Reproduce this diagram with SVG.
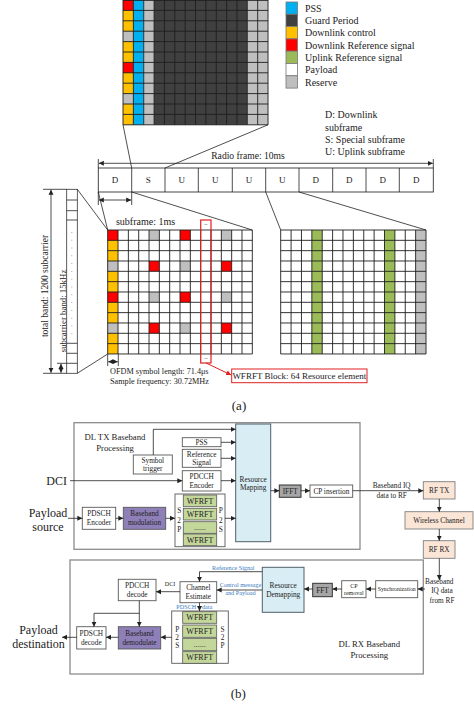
<svg xmlns="http://www.w3.org/2000/svg" width="474" height="722" viewBox="0 0 474 722">
<defs>
<marker id="ah" markerUnits="userSpaceOnUse" markerWidth="6" markerHeight="6" refX="5" refY="3" orient="auto-start-reverse"><path d="M0,0.5 L5,3 L0,5.5 z" fill="#222"/></marker>
<marker id="ahr" markerUnits="userSpaceOnUse" markerWidth="6" markerHeight="6" refX="5" refY="3" orient="auto"><path d="M0,0.5 L5,3 L0,5.5 z" fill="#e02020"/></marker>
</defs>
<style>
.t{font-family:"Liberation Serif","Times New Roman",serif;fill:#222}
.m{text-anchor:middle}
.R{fill:#ff0000}.Y{fill:#ffc000}.G{fill:#bfbfbf}.B{fill:#00b0f0}.K{fill:#404040}.V{fill:#9bbb59}.W{fill:#fff}
.gl{stroke:#1e1e1e;stroke-width:0.9;fill:none}
.ln{stroke:#222;stroke-width:0.8;fill:none}
.dbl{stroke:#222;stroke-width:0.8;fill:none;marker-start:url(#ah);marker-end:url(#ah)}
.box{fill:#fff;stroke:#595959;stroke-width:0.9}
.pur{fill:#8f7fb8;stroke:#595959;stroke-width:0.9}
.lb{fill:#d9edf4;stroke:#4f5f6a;stroke-width:1}
.grn{fill:#c4d79b;stroke:#595959;stroke-width:0.8}
.gry{fill:#a6a6a6;stroke:#333;stroke-width:1}
.pch{fill:#fbe5d6;stroke:#7f7f7f;stroke-width:0.9}
.outer{fill:none;stroke:#8c8c8c;stroke-width:1.3}
.c{stroke:#222;stroke-width:0.8;fill:none;marker-end:url(#ah)}
.s7{font-size:7.3px}
.blue{fill:#3a7cc0;font-size:6.2px}
</style>
<rect width="474" height="722" fill="#fff"/>

<!-- ===== (a) special subframe detail grid ===== -->
<g id="special-subframe-grid">
<rect x="123" y="0" width="145" height="124.8" class="W"/>
<rect x="123" y="0" width="10.36" height="124.8" class="Y"/>
<rect x="123" y="0" width="10.36" height="10.4" class="R"/>
<rect x="123" y="62.4" width="10.36" height="10.4" class="R"/>
<rect x="123" y="31.2" width="10.36" height="10.4" class="G"/>
<rect x="123" y="93.6" width="10.36" height="10.4" class="G"/>
<rect x="133.36" y="0" width="10.36" height="124.8" class="B"/>
<rect x="143.72" y="0" width="10.36" height="124.8" class="G"/>
<rect x="154.08" y="0" width="93.24" height="124.8" class="K"/>
<rect x="247.32" y="0" width="20.72" height="124.8" class="G"/>
<path class="gl" d="M123,0V124.8M133.36,0V124.8M143.72,0V124.8M154.08,0V124.8M164.44,0V124.8M174.8,0V124.8M185.16,0V124.8M195.52,0V124.8M205.88,0V124.8M216.24,0V124.8M226.6,0V124.8M236.96,0V124.8M247.32,0V124.8M257.68,0V124.8M268.04,0V124.8M123,0.4H268.04M123,10.4H268.04M123,20.8H268.04M123,31.2H268.04M123,41.6H268.04M123,52H268.04M123,62.4H268.04M123,72.8H268.04M123,83.2H268.04M123,93.6H268.04M123,104H268.04M123,114.4H268.04M123,124.8H268.04"/>
</g>

<!-- legend -->
<g id="legend">
<g stroke="#777" stroke-width="0.8">
<rect x="286" y="2" width="11.5" height="12.3" class="B"/>
<rect x="286" y="14.3" width="11.5" height="12.3" class="K"/>
<rect x="286" y="26.6" width="11.5" height="12.3" class="Y"/>
<rect x="286" y="38.9" width="11.5" height="12.3" class="R"/>
<rect x="286" y="51.2" width="11.5" height="12.3" class="V"/>
<rect x="286" y="63.5" width="11.5" height="12.3" class="W"/>
<rect x="286" y="75.8" width="11.5" height="12.3" class="G"/>
</g>
<g class="t" font-size="10">
<text x="305" y="11.5">PSS</text>
<text x="305" y="24">Guard Period</text>
<text x="305" y="36.3">Downlink control</text>
<text x="305" y="48.6">Downlink Reference signal</text>
<text x="305" y="61">Uplink Reference signal</text>
<text x="305" y="73.2">Payload</text>
<text x="305" y="85.5">Reserve</text>
<text x="325" y="117.5">D: Downlink</text>
<text x="325" y="130.5">subframe</text>
<text x="325" y="143">S: Special subframe</text>
<text x="325" y="155">U: Uplink subframe</text>
</g>
</g>

<!-- radio frame -->
<g id="radio-frame">
<text class="t m" x="248" y="158.5" font-size="9.6">Radio frame: 10ms</text>
<rect x="98.3" y="168" width="335" height="24" fill="#fff" stroke="#333" stroke-width="0.9"/>
<path class="ln" d="M131.7,168V192M165,168V192M198.3,168V192M232.3,168V192M265.7,168V192M299,168V192M332.7,168V192M366,168V192M399.3,168V192"/>
<g class="t m" font-size="9">
<text x="115" y="183.2">D</text><text x="148.3" y="183.2">S</text><text x="181.7" y="183.2">U</text><text x="215.3" y="183.2">U</text><text x="249" y="183.2">U</text><text x="282.3" y="183.2">U</text><text x="315.8" y="183.2">D</text><text x="349.3" y="183.2">D</text><text x="382.7" y="183.2">D</text><text x="416.3" y="183.2">D</text>
</g>
</g>

<!-- downlink subframe grid -->
<g id="downlink-subframe-grid">
<rect x="107.7" y="230" width="144.62" height="123.96" class="W"/>
<rect x="107.7" y="230" width="10.33" height="123.96" class="Y"/>
<rect x="107.7" y="230" width="10.33" height="10.33" class="R"/>
<rect x="107.7" y="291.98" width="10.33" height="10.33" class="R"/>
<rect x="107.7" y="260.99" width="10.33" height="10.33" class="G"/>
<rect x="107.7" y="322.97" width="10.33" height="10.33" class="G"/>
<rect x="149.02" y="230" width="10.33" height="10.33" class="G"/>
<rect x="180.01" y="230" width="10.33" height="10.33" class="R"/>
<rect x="221.33" y="230" width="10.33" height="10.33" class="G"/>
<rect x="149.02" y="260.99" width="10.33" height="10.33" class="R"/>
<rect x="180.01" y="260.99" width="10.33" height="10.33" class="G"/>
<rect x="221.33" y="260.99" width="10.33" height="10.33" class="R"/>
<rect x="149.02" y="291.98" width="10.33" height="10.33" class="G"/>
<rect x="180.01" y="291.98" width="10.33" height="10.33" class="R"/>
<rect x="221.33" y="291.98" width="10.33" height="10.33" class="G"/>
<rect x="149.02" y="322.97" width="10.33" height="10.33" class="R"/>
<rect x="180.01" y="322.97" width="10.33" height="10.33" class="G"/>
<rect x="221.33" y="322.97" width="10.33" height="10.33" class="R"/>
<path class="gl" d="M107.7,230V353.96M118.03,230V353.96M128.36,230V353.96M138.69,230V353.96M149.02,230V353.96M159.35,230V353.96M169.68,230V353.96M180.01,230V353.96M190.34,230V353.96M200.67,230V353.96M211,230V353.96M221.33,230V353.96M231.66,230V353.96M241.99,230V353.96M252.32,230V353.96M107.7,230H252.32M107.7,240.33H252.32M107.7,250.66H252.32M107.7,260.99H252.32M107.7,271.32H252.32M107.7,281.65H252.32M107.7,291.98H252.32M107.7,302.31H252.32M107.7,312.64H252.32M107.7,322.97H252.32M107.7,333.3H252.32M107.7,343.63H252.32M107.7,353.96H252.32"/>
<text class="t m" x="145.5" y="224.5" font-size="10">subframe: 1ms</text>
</g>

<!-- uplink subframe grid -->
<g id="uplink-subframe-grid">
<rect x="280.7" y="230" width="145.32" height="123.96" class="W"/>
<rect x="311.84" y="230" width="10.38" height="123.96" class="V"/>
<rect x="384.5" y="230" width="10.38" height="123.96" class="V"/>
<rect x="415.64" y="230" width="10.38" height="123.96" class="G"/>
<path class="gl" d="M280.7,230V353.96M291.08,230V353.96M301.46,230V353.96M311.84,230V353.96M322.22,230V353.96M332.6,230V353.96M342.98,230V353.96M353.36,230V353.96M363.74,230V353.96M374.12,230V353.96M384.5,230V353.96M394.88,230V353.96M405.26,230V353.96M415.64,230V353.96M426.02,230V353.96M280.7,230H426.02M280.7,240.33H426.02M280.7,250.66H426.02M280.7,260.99H426.02M280.7,271.32H426.02M280.7,281.65H426.02M280.7,291.98H426.02M280.7,302.31H426.02M280.7,312.64H426.02M280.7,322.97H426.02M280.7,333.3H426.02M280.7,343.63H426.02M280.7,353.96H426.02"/>
</g>

<!-- total band strip -->
<g id="band-strip">
<rect x="66.7" y="189.3" width="10.6" height="184" fill="#fff" stroke="#333" stroke-width="0.8"/>
<path class="ln" d="M66.7,200H77.3M66.7,210.7H77.3M66.7,220H77.3M66.7,343.3H77.3M66.7,353.3H77.3M66.7,363.3H77.3"/>
<path d="M71.8,232V338" stroke="#777" stroke-width="0.8" stroke-dasharray="0.8 7"/>
<text class="t m" transform="translate(48.4,286) rotate(-90)" font-size="9.5">total band: 1200 subcarrier</text>
<text class="t m" transform="translate(66,311) rotate(-90)" font-size="8.8">subcarrier band: 15kHz</text>
</g>

<!-- WFRFT block -->
<g id="wfrft-block">
<rect x="200.7" y="220" width="10.3" height="143" fill="none" stroke="#e02020" stroke-width="1.2"/>
<path d="M204.3,224.5H207.5M204.3,358.5H207.5" stroke="#aaa" stroke-width="0.8"/>
<rect x="231.7" y="369" width="135.3" height="13.7" fill="#fff" stroke="#e02020" stroke-width="1"/>
<text class="t m" x="299.3" y="379" font-size="9">WFRFT Block: 64 Resource element</text>
</g>

<g id="ofdm-labels" class="t" font-size="8.2">
<text x="110" y="373.5">OFDM symbol length: 71.4μs</text>
<text x="110" y="384">Sample frequency: 30.72MHz</text>
</g>
<text class="t m" x="239" y="409.5" font-size="13">(a)</text>

<!-- (a) connectors and dimension lines -->
<g id="a-connectors">
<path class="dbl" d="M98.8,163.3H432.8"/>
<path class="ln" d="M98.3,159V168M433.3,159V168"/>
<path class="ln" d="M123,124.8L131.7,168M268,124.8L165,168"/>
<path class="ln" d="M98.3,192L107.7,230M131.7,192L252.3,230"/>
<path class="ln" d="M265.7,192L280.7,230M299,192L426,230"/>
<path class="dbl" d="M98.8,200H131.2"/>
<path class="ln" d="M98.3,192V205M131.7,192V205"/>
<path class="ln" d="M77.3,189.3L107.7,230M77.3,373.3L107.7,354"/>
<path class="dbl" d="M51,189.8V372.8"/>
<path class="ln" d="M43,189.3H66.7M43,373.3H66.7M57,363.3H66.7"/>
<path class="dbl" d="M61,363.8V372.8"/>
<path class="dbl" d="M108.2,361.7H117.8"/>
<path class="ln" d="M107.7,354V366M118.3,354V366"/>
<path d="M206,363L231.2,375" stroke="#e02020" stroke-width="1" fill="none" marker-end="url(#ahr)"/>
</g>

<!-- ===== (b) TX ===== -->
<g id="tx-frame">
<rect x="74" y="422.7" width="286" height="126.6" class="outer"/>
<text class="t m" x="115" y="439.7" font-size="8.7">DL TX Baseband</text>
<text class="t m" x="115" y="450.7" font-size="8.7">Processing</text>
</g>
<g id="symbol-trigger"><rect x="133.3" y="455" width="39" height="19" class="box"/><text class="t m s7" x="152.8" y="462.8">Symbol</text><text class="t m s7" x="152.8" y="471.3">trigger</text></g>
<g id="pss"><rect x="182.3" y="437.7" width="38.7" height="9" class="box"/><text class="t m s7" x="201.6" y="444.8">PSS</text></g>
<g id="reference-signal"><rect x="182.3" y="449.3" width="38.7" height="18" class="box"/><text class="t m s7" x="201.6" y="456.6">Reference</text><text class="t m s7" x="201.6" y="465">Signal</text></g>
<g id="pdcch-encoder"><rect x="182.3" y="470.7" width="38.7" height="20.3" class="box"/><text class="t m s7" x="201.6" y="478.8">PDCCH</text><text class="t m s7" x="201.6" y="487.6">Encoder</text></g>
<g id="resource-mapping"><rect x="235.7" y="424" width="35" height="117.7" class="lb"/><text class="t m s7" x="253.2" y="481.6">Resource</text><text class="t m s7" x="253.2" y="490.2">Mapping</text></g>
<g id="pdsch-encoder"><rect x="82.3" y="507.3" width="33.4" height="22" class="box"/><text class="t m s7" x="99" y="516.2">PDSCH</text><text class="t m s7" x="99" y="525.2">Encoder</text></g>
<g id="baseband-modulation"><rect x="123.3" y="507.3" width="42.4" height="22" class="pur"/><text class="t m s7" x="144.5" y="516.2">Baseband</text><text class="t m s7" x="144.5" y="525.2">modulation</text></g>
<g id="tx-wfrft">
<rect x="175" y="494" width="50" height="52.7" class="box"/>
<rect x="183.3" y="495" width="33.4" height="11.7" class="grn"/>
<rect x="183.3" y="508.3" width="33.4" height="11.7" class="grn"/>
<rect x="183.3" y="521.7" width="33.4" height="11.6" class="grn"/>
<rect x="183.3" y="534" width="33.4" height="11.7" class="grn"/>
<g class="t m" font-size="8"><text x="200" y="503.8">WFRFT</text><text x="200" y="517.1">WFRFT</text><text x="200" y="529.5">......</text><text x="200" y="542.8">WFRFT</text></g>
<g class="t m s7"><text x="179.2" y="512.6">S</text><text x="179.2" y="522.6">2</text><text x="179.2" y="532">P</text><text x="220.8" y="512.6">P</text><text x="220.8" y="522.6">2</text><text x="220.8" y="532">S</text></g>
</g>
<g id="ifft"><rect x="279.3" y="485" width="21.7" height="12.3" class="gry"/><text class="t m s7" x="290.2" y="493.7">IFFT</text></g>
<g id="cp-insertion"><rect x="310" y="485" width="42.7" height="12.3" class="box"/><text class="t m s7" x="331.4" y="493.7">CP insertion</text></g>
<g id="rf-tx"><rect x="423.3" y="481.7" width="31.7" height="17.3" class="pch"/><text class="t m s7" x="439.2" y="492.9">RF TX</text></g>
<g id="wireless-channel"><rect x="405" y="511.7" width="68" height="17.3" class="pch"/><text class="t m s7" x="439" y="522.9">Wireless Channel</text></g>
<g id="rf-rx"><rect x="423.3" y="540.7" width="31.7" height="17.6" class="pch"/><text class="t m s7" x="439.2" y="552">RF RX</text></g>
<g id="tx-labels" class="t">
<text x="67" y="485" font-size="12" text-anchor="end">DCI</text>
<text class="m" x="48" y="517" font-size="12">Payload</text>
<text class="m" x="48" y="530.5" font-size="12">source</text>
<text class="m s7" x="391.7" y="488.3">Baseband IQ</text>
<text class="m s7" x="391.7" y="497.8">data to RF</text>
</g>

<!-- ===== (b) RX ===== -->
<g id="rx-frame">
<rect x="70" y="560" width="353.3" height="114" class="outer"/>
<text class="t m" x="369.3" y="647" font-size="8.7">DL RX Baseband</text>
<text class="t m" x="369.3" y="657.5" font-size="8.7">Processing</text>
</g>
<g id="synchronization"><rect x="375.7" y="580.7" width="42" height="17" class="box"/><text class="t m" x="396.7" y="591.2" font-size="5.8">Synchronization</text></g>
<g id="cp-removal"><rect x="341.7" y="580.7" width="24.3" height="17" class="box"/><text class="t m" x="353.8" y="588" font-size="6">CP</text><text class="t m" x="353.8" y="595" font-size="6">removal</text></g>
<g id="fft"><rect x="312.7" y="583.3" width="19.6" height="13.4" class="gry"/><text class="t m s7" x="322.5" y="592.6">FFT</text></g>
<g id="resource-demapping"><rect x="262.3" y="567.3" width="41.7" height="45" class="lb"/><text class="t m s7" x="283.2" y="587.6">Resource</text><text class="t m s7" x="283.2" y="596.9">Demapping</text></g>
<g id="channel-estimate"><rect x="180" y="581.7" width="36.7" height="21" class="box"/><text class="t m s7" x="198.3" y="590">Channel</text><text class="t m s7" x="198.3" y="599.2">Estimate</text></g>
<g id="pdcch-decode"><rect x="118.3" y="579.3" width="37.7" height="21.4" class="box"/><text class="t m s7" x="137.2" y="588.2">PDCCH</text><text class="t m s7" x="137.2" y="597.2">decode</text></g>
<g id="rx-wfrft">
<rect x="171.7" y="611" width="56.6" height="52.3" class="box"/>
<rect x="182.7" y="611.7" width="34" height="11.6" class="grn"/>
<rect x="182.7" y="625" width="34" height="12.3" class="grn"/>
<rect x="182.7" y="638.3" width="34" height="12.4" class="grn"/>
<rect x="182.7" y="651.7" width="34" height="11.6" class="grn"/>
<g class="t m" font-size="8"><text x="199.7" y="620.3">WFRFT</text><text x="199.7" y="634">WFRFT</text><text x="199.7" y="646.5">......</text><text x="199.7" y="660.3">WFRFT</text></g>
<g class="t m s7"><text x="177.2" y="632">P</text><text x="177.2" y="640">2</text><text x="177.2" y="647.8">S</text><text x="222.5" y="632">S</text><text x="222.5" y="640">2</text><text x="222.5" y="647.8">P</text></g>
</g>
<g id="pdsch-decode"><rect x="76.7" y="626.7" width="29.3" height="22.3" class="box"/><text class="t m s7" x="91.3" y="635.6">PDSCH</text><text class="t m s7" x="91.3" y="644.6">decode</text></g>
<g id="baseband-demodulate"><rect x="118.3" y="626.7" width="42.4" height="22.3" class="pur"/><text class="t m s7" x="139.5" y="635.6">Baseband</text><text class="t m s7" x="139.5" y="644.6">demodulate</text></g>
<g id="rx-labels" class="t">
<text class="m" x="38.5" y="634" font-size="12">Payload</text>
<text class="m" x="38.5" y="648" font-size="12">destination</text>
<text class="m s7" x="439.3" y="584.3">Baseband</text>
<text class="m s7" x="442" y="593.3">IQ data</text>
<text class="m s7" x="442" y="602.6">from RF</text>
<text class="blue m" x="233.3" y="569.5">Reference Signal</text>
<text class="blue m" x="240.5" y="587.3">Control message</text>
<text class="blue m" x="240.5" y="595.3">and Payload</text>
<text class="blue" x="196.3" y="609.4" text-anchor="end">PDSCH</text>
<text class="blue" x="202" y="609.4">data</text>
<text x="170" y="585.8" font-size="6" text-anchor="middle">DCI</text>
</g>
<text class="t m" x="238.3" y="697.5" font-size="13">(b)</text>

<!-- (b) connectors -->
<g id="b-connectors">
<path class="c" d="M153.3,455V429.3H235.7"/>
<path class="c" d="M221,442.3H235.7"/>
<path class="c" d="M221,458.3H235.7"/>
<path class="c" d="M221,480.7H235.7"/>
<path class="c" d="M70,480.7H182.3"/>
<path class="c" d="M68,518.3H82.3"/>
<path class="c" d="M115.7,518.3H123.3"/>
<path class="c" d="M165.7,518.3H175"/>
<path class="c" d="M225,518.3H235.7"/>
<path class="c" d="M270.7,490.7H279.3"/>
<path class="c" d="M301,490.7H310"/>
<path class="c" d="M352.7,490.7H423.3"/>
<path class="c" d="M439.3,499V511.7"/>
<path class="c" d="M439.3,529V540.7"/>
<path class="c" d="M439.3,558.3V580"/>
<path class="c" d="M425,589H417.7"/>
<path class="c" d="M375.7,589H366"/>
<path class="c" d="M341.7,589H332.3"/>
<path class="c" d="M312.7,589H304"/>
<path class="c" d="M262.3,571.7H199.5V581.7"/>
<path class="c" d="M262.3,590H216.7"/>
<path class="c" d="M180,591.7H156"/>
<path class="c" d="M199.5,602.7V611"/>
<path class="c" d="M171.7,637.3H160.7"/>
<path class="c" d="M118.3,637.3H106"/>
<path class="c" d="M76.7,637.3H62"/>
<path class="c" d="M139.3,600.7V626.7"/>
<path class="c" d="M139.3,613.3H94V626.7"/>
</g>
</svg>
